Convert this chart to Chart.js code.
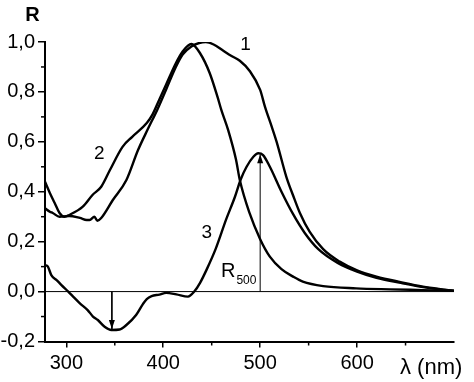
<!DOCTYPE html>
<html><head><meta charset="utf-8">
<script src="https://cdn.jsdelivr.net/npm/chart.js@4.4.1/dist/chart.umd.min.js"></script>
<style>html,body{margin:0;padding:0;background:#fff;}#wrap{width:474px;height:382px;}</style>
</head><body><div id="wrap"><canvas id="c" width="474" height="382"></canvas></div>
<script>
// ---- data (wavelength in nm, reflectance R) ----
const curve1Wl = [278,283,286,293,303,314,321,324,329,332,336,348,362,374,384,394,403,413,420,429,437,444,452,462,470,479,489,500,505,512,517,527,534,541,551,565,582,600,620,645,668,690,700];
const curve1R  = [0.334,0.32,0.315,0.30,0.303,0.295,0.287,0.287,0.30,0.284,0.295,0.367,0.447,0.567,0.65,0.73,0.81,0.9,0.95,0.982,0.996,1.0,0.99,0.965,0.945,0.925,0.885,0.808,0.74,0.66,0.6,0.46,0.385,0.315,0.24,0.17,0.12,0.085,0.06,0.038,0.02,0.008,0.003];

const curve2Wl = [278,283,288,293,298,303,317,327,336,345,358,368,383,389,396,403,413,420,429,438,448,456,460,467,475,479,489,500,510,522,534,544,565,599,634,668,700];
const curve2R  = [0.44,0.395,0.355,0.315,0.30,0.307,0.34,0.387,0.42,0.487,0.58,0.62,0.675,0.71,0.77,0.83,0.915,0.962,0.992,0.955,0.875,0.78,0.727,0.647,0.53,0.447,0.315,0.21,0.14,0.09,0.06,0.04,0.022,0.013,0.009,0.006,0.003];

const curve3Wl = [278,281,284.5,290,295,302,307,314,322,327.5,332.5,339.5,346.5,355,362,372,379,383,388,396,403,413.5,425.5,432,438,445,454,465,474,480,486,493,498,503,510,522,534,546,560,580,600,620,645,668,690,700];
const curve3R  = [0.106,0.1,0.066,0.046,0.026,0,-0.02,-0.047,-0.074,-0.1,-0.114,-0.141,-0.154,-0.152,-0.134,-0.094,-0.05,-0.03,-0.018,-0.012,-0.005,-0.011,-0.02,0,0.035,0.09,0.17,0.29,0.38,0.45,0.5,0.54,0.554,0.547,0.5,0.4,0.31,0.235,0.17,0.115,0.08,0.055,0.035,0.018,0.007,0.003];

const xMajorTicks = [300,400,500,600];
const xMinorTicks = [350,450,550,650];
const yMajorTicks = [-0.2,0,0.2,0.4,0.6,0.8,1.0];
const yMinorTicks = [-0.1,0.1,0.3,0.5,0.7,0.9];
const xRange = [278,700];
const yRange = [-0.2,1.0];

// arrows: wavelength, start R, end R
const arrowWl   = [347,500];
const arrowFrom = [0,0];
const arrowTo   = [-0.15,0.55];

// curve labels in data coordinates
const labelTexts = ['1','2','3'];
const labelWl    = [485,334,445];
const labelR     = [0.988,0.551,0.236];

const toXY = (xs, ys) => xs.map((x,i)=>({x:x, y:ys[i]}));
const FONT = "'Liberation Sans', Arial, sans-serif";

const curveStyle = {borderColor:'#000', borderWidth:2.4, pointRadius:0, fill:false, cubicInterpolationMode:'monotone'};
const thin = {borderColor:'#000', borderWidth:1, pointRadius:0, fill:false, tension:0};

const datasets = [
  Object.assign({label:'zero', data:toXY(xRange,[0,0])}, thin),
  Object.assign({label:'a1', data:toXY([arrowWl[0],arrowWl[0]],[arrowFrom[0],arrowTo[0]])}, thin),
  Object.assign({label:'a2', data:toXY([arrowWl[1],arrowWl[1]],[arrowFrom[1],arrowTo[1]])}, thin),
  Object.assign({label:'1', data:toXY(curve1Wl,curve1R)}, curveStyle),
  Object.assign({label:'2', data:toXY(curve2Wl,curve2R)}, curveStyle),
  Object.assign({label:'3', data:toXY(curve3Wl,curve3R)}, curveStyle),
];

const extras = {
  id:'extras',
  afterDraw(chart){
    const ctx = chart.ctx, xs = chart.scales.x, ys = chart.scales.y;
    ctx.save();
    ctx.strokeStyle = '#000'; ctx.fillStyle = '#000'; ctx.lineWidth = 1.5;
    // minor ticks
    xMinorTicks.forEach(v=>{const px = xs.getPixelForValue(v); ctx.beginPath(); ctx.moveTo(px, ys.bottom); ctx.lineTo(px, ys.bottom+4); ctx.stroke();});
    yMinorTicks.forEach(v=>{const py = ys.getPixelForValue(v); ctx.beginPath(); ctx.moveTo(xs.left, py); ctx.lineTo(xs.left-4, py); ctx.stroke();});
    // arrowheads
    arrowWl.forEach((w,i)=>{
      const px = xs.getPixelForValue(w), py = ys.getPixelForValue(arrowTo[i]);
      const dir = arrowTo[i] < arrowFrom[i] ? 1 : -1; // 1 = pointing down
      ctx.beginPath(); ctx.moveTo(px, py); ctx.lineTo(px-3, py-dir*9); ctx.lineTo(px+3, py-dir*9); ctx.closePath(); ctx.fill();
    });
    // curve labels
    ctx.font = '19px ' + FONT; ctx.textAlign = 'center'; ctx.textBaseline = 'middle';
    labelTexts.forEach((t,i)=>{ ctx.fillText(t, xs.getPixelForValue(labelWl[i]), ys.getPixelForValue(labelR[i])); });
    // R500
    ctx.textAlign = 'left'; ctx.textBaseline = 'alphabetic';
    const rx = xs.getPixelForValue(459.6), ry = ys.getPixelForValue(0.059);
    ctx.font = '20px ' + FONT; ctx.fillText('R', rx, ry);
    const rw = ctx.measureText('R').width;
    ctx.font = '12px ' + FONT; ctx.fillText('500', rx+rw+1, ry+7);
    // axis titles
    ctx.font = 'bold 20px ' + FONT; ctx.textAlign = 'center';
    ctx.fillText('R', 32.5, 21);
    ctx.font = '22px ' + FONT; ctx.textAlign = 'left';
    ctx.fillText('λ (nm)', 400, 374);
    ctx.restore();
  }
};

new Chart(document.getElementById('c'), {
  type:'line',
  data:{datasets},
  options:{
    responsive:false, animation:false, devicePixelRatio:1,
    layout:{padding:{top:42,right:20,left:0,bottom:0}},
    plugins:{legend:{display:false}, tooltip:{enabled:false}},
    scales:{
      x:{type:'linear', min:xRange[0], max:xRange[1],
        afterBuildTicks:s=>{s.ticks = xMajorTicks.map(v=>({value:v}));},
        afterFit:s=>{s.height = 40.5;},
        ticks:{color:'#000', font:{family:FONT, size:20}, padding:4, maxRotation:0, autoSkip:false, callback:v=>String(v)},
        grid:{drawOnChartArea:false, drawTicks:true, tickLength:6, color:'#000', lineWidth:1.5},
        border:{display:true, color:'#000', width:2}
      },
      y:{type:'linear', min:yRange[0], max:yRange[1],
        afterBuildTicks:s=>{s.ticks = yMajorTicks.map(v=>({value:v}));},
        afterFit:s=>{s.width = 45;},
        ticks:{color:'#000', font:{family:FONT, size:20}, padding:3, autoSkip:false, callback:v=>v.toFixed(1).replace('.',',')},
        grid:{drawOnChartArea:false, drawTicks:true, tickLength:7, color:'#000', lineWidth:1.5},
        border:{display:true, color:'#000', width:2}
      }
    }
  },
  plugins:[extras]
});
</script></body></html>
